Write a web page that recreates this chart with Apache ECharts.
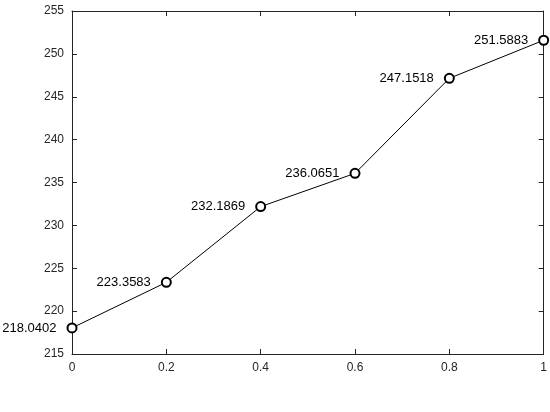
<!DOCTYPE html>
<html><head><meta charset="utf-8">
<script src="https://cdn.jsdelivr.net/npm/echarts@6/dist/echarts.min.js"></script>
<style>html,body{margin:0;padding:0;background:#fff}#c{width:550px;height:412px}</style>
</head><body><div id="c"></div>
<script>
var xs = [0, 0.2, 0.4, 0.6, 0.8, 1];
var ys = [218.0402, 223.3583, 232.1869, 236.0651, 247.1518, 251.5883];
var labels = ['218.0402','223.3583','232.1869','236.0651','247.1518','251.5883'];
var font = 'Arial, "Liberation Sans", sans-serif';
var line = {show:true,onZero:false,lineStyle:{color:'#262626',width:1}};
var tick = {show:true,inside:true,length:5,lineStyle:{color:'#262626'}};
var chart = echarts.init(document.getElementById('c'));
chart.setOption({
  animation:false,
  grid:{left:72,right:5,top:11,bottom:58},
  xAxis:[
    {type:'value',min:0,max:1,interval:0.2,position:'bottom',axisLine:line,axisTick:tick,
     axisLabel:{color:'#262626',fontFamily:font,fontSize:12,margin:8},splitLine:{show:false}},
    {type:'value',min:0,max:1,interval:0.2,position:'top',axisLine:line,axisTick:tick,
     axisLabel:{show:false},splitLine:{show:false}}
  ],
  yAxis:[
    {type:'value',min:215,max:255,interval:5,position:'left',axisLine:line,axisTick:tick,
     axisLabel:{color:'#262626',fontFamily:font,fontSize:12,margin:8},splitLine:{show:false}},
    {type:'value',min:215,max:255,interval:5,position:'right',axisLine:line,axisTick:tick,
     axisLabel:{show:false},splitLine:{show:false}}
  ],
  series:[{
    type:'line',
    data:xs.map(function(x,i){return [x,ys[i]];}),
    symbol:'emptyCircle',symbolSize:9,
    itemStyle:{color:'#000',borderColor:'#000',borderWidth:1},
    lineStyle:{color:'#000',width:1},
    label:{show:true,position:'left',distance:10,color:'#000',fontFamily:font,fontSize:13,
      formatter:function(p){return labels[p.dataIndex];}}
  }]
});
</script></body></html>
